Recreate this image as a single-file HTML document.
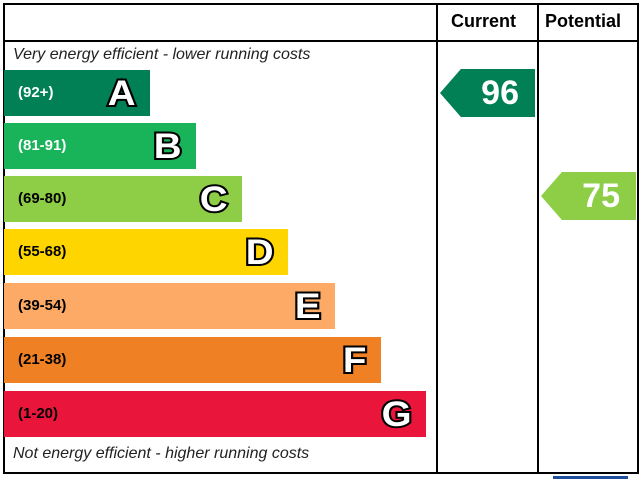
<!DOCTYPE html>
<html><head><style>
body{margin:0;width:640px;height:479px;background:#fff;position:relative;overflow:hidden;font-family:"Liberation Sans",Arial,sans-serif}
.l{position:absolute;background:#000}
.bar{position:absolute;left:4px;height:46px}
.r{position:absolute;left:14px;top:14px;color:#fff;font-weight:bold;font-size:15px}
.let{position:absolute;right:16px;top:4px;font-weight:900;font-size:35px;color:#fff;-webkit-text-stroke:4px #000;paint-order:stroke fill;font-family:"Liberation Sans",Arial,sans-serif;transform:scaleX(1.1)}
.t{position:absolute;font-style:italic;font-size:16px;color:#222}
.h{position:absolute;top:11px;font-weight:bold;font-size:18px;color:#000}
.arr{position:absolute;height:48px;clip-path:polygon(0 50%,22% 0,100% 0,100% 100%,22% 100%);color:#fff;font-weight:bold;font-size:34px;text-align:right;line-height:48px;box-sizing:border-box}
</style></head><body>
<div class="l" style="left:3px;top:3px;width:635px;height:2px"></div>
<div class="l" style="left:3px;top:40px;width:635px;height:2px"></div>
<div class="l" style="left:3px;top:472px;width:635px;height:2px"></div>
<div class="l" style="left:3px;top:3px;width:2px;height:471px"></div>
<div class="l" style="left:436px;top:3px;width:2px;height:471px"></div>
<div class="l" style="left:537px;top:3px;width:2px;height:471px"></div>
<div class="l" style="left:637px;top:3px;width:2px;height:471px"></div>
<div class="h" style="left:451px">Current</div>
<div class="h" style="left:545px">Potential</div>
<div class="t" style="left:13px;top:46px">Very energy efficient - lower running costs</div>
<div class="t" style="left:13px;top:445px">Not energy efficient - higher running costs</div>
<div class="bar" style="top:70px;width:146px;background:#008054"><span class="r">(92+)</span><span class="let">A</span></div>
<div class="bar" style="top:123px;width:192px;background:#19b459"><span class="r">(81-91)</span><span class="let">B</span></div>
<div class="bar" style="top:176px;width:238px;background:#8dce46"><span class="r" style="color:#000">(69-80)</span><span class="let">C</span></div>
<div class="bar" style="top:229px;width:284px;background:#ffd500"><span class="r" style="color:#000">(55-68)</span><span class="let">D</span></div>
<div class="bar" style="top:283px;width:331px;background:#fcaa65"><span class="r" style="color:#000">(39-54)</span><span class="let">E</span></div>
<div class="bar" style="top:337px;width:377px;background:#ef8023"><span class="r" style="color:#000">(21-38)</span><span class="let">F</span></div>
<div class="bar" style="top:391px;width:422px;background:#e9153b"><span class="r" style="color:#000">(1-20)</span><span class="let">G</span></div>
<div class="arr" style="left:440px;top:69px;width:95px;background:#008054;padding-right:16px">96</div>
<div class="arr" style="left:541px;top:172px;width:95px;background:#8dce46;padding-right:16px">75</div>
<div style="position:absolute;left:553px;top:476px;width:75px;height:3px;background:#1f4e9c"></div>
</body></html>
